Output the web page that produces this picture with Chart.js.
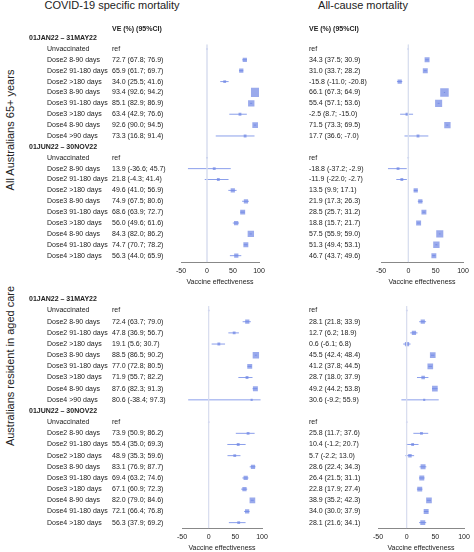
<!DOCTYPE html>
<html><head><meta charset="utf-8">
<script src="https://cdn.jsdelivr.net/npm/chart.js@4"></script>
<style>
body{margin:0;background:#fff;width:474px;height:552px;position:relative;overflow:hidden;font-family:"Liberation Sans",Arial,sans-serif}
canvas{position:absolute}
.t{position:absolute;font-size:11px;color:#222;white-space:nowrap;transform:translateX(-50%)}
.r{position:absolute;font-size:11px;color:#222;white-space:nowrap;transform:translate(-50%,-50%) rotate(-90deg)}
</style></head><body>
<div class="t" style="left:112px;top:-1px">COVID-19 specific mortality</div>
<div class="t" style="left:363px;top:-1px">All-cause mortality</div>
<div class="r" style="left:10px;top:130px">All Australians 65+ years</div>
<div class="r" style="left:10px;top:366px">Australians resident in aged care</div>
<canvas id="tl" style="left:0;top:0"></canvas>
<canvas id="tr" style="left:237px;top:0"></canvas>
<canvas id="bl" style="left:0;top:276px"></canvas>
<canvas id="br" style="left:237px;top:276px"></canvas>
<script>
const periods=["01JAN22 \u2013 31MAY22","01JUN22 \u2013 30NOV22"];
const rows1=["Unvaccinated","Dose2 8-90 days","Dose2 91-180 days","Dose2 >180 days","Dose3 8-90 days","Dose3 91-180 days","Dose3 >180 days","Dose4 8-90 days","Dose4 >90 days"];
const rows2=["Unvaccinated","Dose2 8-90 days","Dose2 91-180 days","Dose2 >180 days","Dose3 8-90 days","Dose3 91-180 days","Dose3 >180 days","Dose4 8-90 days","Dose4 91-180 days","Dose4 >180 days"];
const xTicks=[-50,0,50,100];

// COVID-19 specific, all 65+
const tlVe1=[72.7,65.9,34.0,93.4,85.1,63.4,92.6,73.3], tlA1=[67.8,61.7,25.5,92.6,82.9,42.9,90.0,16.8], tlB1=[76.9,69.7,41.6,94.2,86.9,76.6,94.5,91.4];
const tlVe2=[13.9,21.8,49.6,74.9,68.6,56.0,84.3,74.7,56.3], tlA2=[-36.6,-4.3,41.0,67.5,63.9,49.6,82.0,70.7,44.0], tlB2=[45.7,41.4,56.9,80.6,72.7,61.6,86.2,78.2,65.9];
const tlW1=[1,5,5,3,12,8,3,7,3], tlW2=[1,3,3,5,5,6,5,8,6,5];
// All-cause, all 65+
const trVe1=[34.3,31.0,-15.8,66.1,55.4,-2.5,71.5,17.7], trA1=[37.5,33.7,-11.0,67.3,57.1,8.7,73.3,36.6], trB1=[30.9,28.2,-20.8,64.9,53.6,-15.0,69.5,-7.0];
const trVe2=[-18.8,-11.9,13.5,21.9,28.5,18.8,57.5,51.3,46.7], trA2=[-37.2,-22.0,9.9,17.3,25.7,15.7,55.9,49.4,43.7], trB2=[-2.9,-2.7,17.1,26.3,31.2,21.7,59.0,53.1,49.6];
const trW1=[1,6,6,5,11,9,3,8,3], trW2=[1,3,3,5,5,6,6,9,8,6];
// COVID-19 specific, aged care
const blVe1=[72.4,47.8,19.1,88.5,77.0,71.9,87.6,80.6], blA1=[63.7,36.9,5.6,86.5,72.8,55.7,82.3,-38.4], blB1=[79.0,56.7,30.7,90.2,80.5,82.2,91.3,97.3];
const blVe2=[73.9,55.4,48.9,83.1,69.4,67.1,82.0,72.1,56.3], blA2=[50.9,35.0,35.3,76.9,63.2,60.9,79.0,66.4,37.9], blB2=[86.2,69.3,59.6,87.7,74.6,72.3,84.6,76.8,69.2];
const blW1=[1,5,3,3,8,6,3,6,2], blW2=[1,3,3,3,5,5,5,7,5,3];
// All-cause, aged care
const brVe1=[28.1,12.7,0.6,45.5,41.2,28.7,49.2,30.6], brA1=[21.8,6.2,-6.1,42.4,37.8,18.0,44.2,-9.2], brB1=[33.9,18.9,6.8,48.4,44.5,37.9,53.8,55.9];
const brVe2=[25.8,10.4,5.7,28.6,26.4,22.8,38.9,34.0,28.1], brA2=[11.7,-1.2,-2.2,22.4,21.5,17.9,35.2,30.0,21.6], brB2=[37.6,20.7,13.0,34.3,31.1,27.4,42.3,37.9,34.1];
const brW1=[1,5,5,5,7,7,4,7,2], brW2=[1,3,3,4,6,6,6,7,6,6];

const FILL='rgba(120,142,230,0.75)', LINE='rgba(110,135,230,0.8)', FONT='"Liberation Sans",Arial,sans-serif';
const f1=v=>v.toFixed(1);

function panel(id,w,h,padL,padT,yMax,g1,g2,opts){
  const items=[];
  items.push({y:1,ref:true,w:g1.w[0],label:rows1[0]});
  g1.ve.forEach((v,i)=>items.push({y:i+2,ve:v,a:g1.a[i],b:g1.b[i],w:g1.w[i+1],label:rows1[i+1]}));
  items.push({y:11,ref:true,w:g2.w[0],label:rows2[0]});
  g2.ve.forEach((v,i)=>items.push({y:i+12,ve:v,a:g2.a[i],b:g2.b[i],w:g2.w[i+1],label:rows2[i+1]}));
  const datasets=[];
  datasets.push({type:'line',data:[{x:0,y:0.6},{x:0,y:opts.zeroEnd}],borderColor:'rgba(215,220,238,1)',borderWidth:0.7,pointRadius:0});
  items.filter(o=>!o.ref).forEach(o=>datasets.push({type:'line',data:[{x:Math.min(o.a,o.b),y:o.y},{x:Math.max(o.a,o.b),y:o.y}],borderColor:LINE,borderWidth:1,pointRadius:0}));
  datasets.push({type:'scatter',data:items.map(o=>({x:o.ref?0:o.ve,y:o.y})),pointStyle:'rect',
    pointRadius:items.map(o=>o.ref?1:o.w/2+0.5),backgroundColor:FILL,borderColor:FILL,borderWidth:0});
  const textPlugin={id:'txt',afterDraw(c){
    const ctx=c.ctx, ys=c.scales.y; ctx.save(); ctx.fillStyle='#222'; ctx.textBaseline='middle';
    ctx.font='bold 7px '+FONT;
    if(opts.header) ctx.fillText('VE (%) (95%CI)',opts.veX,ys.getPixelForValue(-0.85));
    if(opts.labels){[0,10].forEach((y,k)=>ctx.fillText(periods[k],29,ys.getPixelForValue(y)));}
    ctx.font='7px '+FONT;
    items.forEach(o=>{const py=ys.getPixelForValue(o.y);
      if(opts.labels) ctx.fillText(o.label,47,py);
      ctx.fillText(o.ref?'ref':`${f1(o.ve)} (${f1(o.a)}; ${f1(o.b)})`,opts.veX,py);});
    ctx.restore();}};
  const cv=document.getElementById(id); cv.width=w; cv.height=h; cv.style.width=w+'px'; cv.style.height=h+'px';
  new Chart(cv,{data:{datasets},plugins:[textPlugin],options:{responsive:false,animation:false,devicePixelRatio:1,
    layout:{padding:{left:padL,right:w-padL-opts.plotW,top:padT,bottom:0}},
    plugins:{legend:{display:false},tooltip:{enabled:false}},
    scales:{y:{type:'linear',reverse:true,min:-1.2,max:yMax,display:false},
      x:{type:'linear',min:-50,max:100,afterBuildTicks:s=>{s.ticks=xTicks.map(v=>({value:v}));},
        grid:{display:false,drawTicks:true,tickLength:3},border:{display:true,color:'#888',width:1},
        ticks:{font:{size:7,family:FONT},color:'#222',padding:2},
        title:{display:true,text:'Vaccine effectiveness',font:{size:7,family:FONT},color:'#222',padding:{top:0,bottom:0}}}}}});
}
panel('tl',270,286,181,25,20.6,{ve:tlVe1,a:tlA1,b:tlB1,w:tlW1},{ve:tlVe2,a:tlA2,b:tlB2,w:tlW2},{labels:true,header:true,veX:112,plotW:78,zeroEnd:20.6});
panel('tr',237,286,144,25,20.6,{ve:trVe1,a:trA1,b:trB1,w:trW1},{ve:trVe2,a:trA2,b:trB2,w:trW2},{labels:false,header:true,veX:72,plotW:82,zeroEnd:20.6});
panel('bl',270,276,182,10,20.5,{ve:blVe1,a:blA1,b:blB1,w:blW1},{ve:blVe2,a:blA2,b:blB2,w:blW2},{labels:true,header:false,veX:112,plotW:80,zeroEnd:20.5});
panel('br',237,276,141,10,20.5,{ve:brVe1,a:brA1,b:brB1,w:brW1},{ve:brVe2,a:brA2,b:brB2,w:brW2},{labels:false,header:false,veX:72,plotW:86,zeroEnd:20.5});
</script></body></html>
